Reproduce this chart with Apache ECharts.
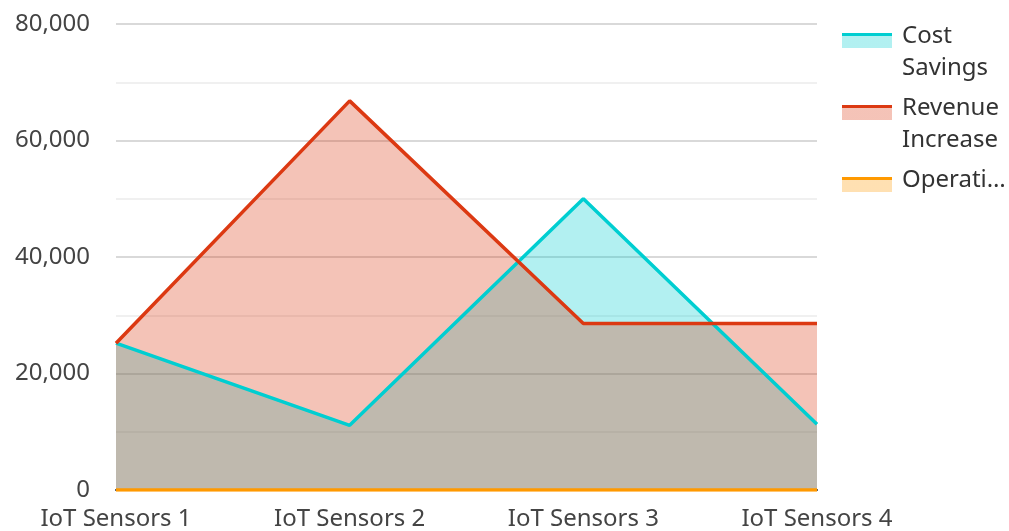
<!DOCTYPE html>
<html>
<head>
<meta charset="utf-8">
<script src="https://cdn.jsdelivr.net/npm/echarts@6/dist/echarts.min.js"></script>
<style>html,body{margin:0;padding:0;background:#fff}#c{width:1009px;height:531px}</style>
</head>
<body>
<div id="c"></div>
<script>
const categories = ['IoT Sensors 1', 'IoT Sensors 2', 'IoT Sensors 3', 'IoT Sensors 4'];
const seriesNames = ['Cost Savings', 'Revenue Increase', 'Operational Efficiency'];
const legendLabels = ['Cost\nSavings', 'Revenue\nIncrease', 'Operati…\n '];
const costSavings = [25200, 11100, 50000, 11300];
const revenueIncrease = [25200, 66800, 28600, 28600];
const operationalEfficiency = [0, 0, 0, 0];
const colors = ['#00CED1', '#DC3912', '#FF9900'];
const fills = ['rgba(0,206,209,0.3)', 'rgba(220,57,18,0.3)', 'rgba(255,153,0,0.3)'];
const T = 'rgba(255,255,255,0)';
const H = 64;
function legendIcon(i) {
  const a = 13 / H, b = 16.5 / H, c = 28 / H;
  return {
    type: 'linear', x: 0, y: 0, x2: 0, y2: 1,
    colorStops: [
      {offset: 0, color: T}, {offset: a, color: T},
      {offset: a, color: colors[i]}, {offset: b, color: colors[i]},
      {offset: b, color: fills[i]}, {offset: c, color: fills[i]},
      {offset: c, color: T}, {offset: 1, color: T}
    ]
  };
}
const data = [costSavings, revenueIncrease, operationalEfficiency];
const chart = echarts.init(document.getElementById('c'));
chart.setOption({
  animation: false,
  textStyle: {fontFamily: 'Noto Sans'},
  grid: {left: 116, right: 192, top: 24, bottom: 41, containLabel: false},
  legend: {
    orient: 'vertical', top: 20, left: 842, padding: 0,
    icon: 'rect', itemWidth: 50, itemHeight: H, itemGap: 8,
    data: seriesNames.map((n, i) => ({name: n, itemStyle: {color: legendIcon(i)}})),
    formatter: n => legendLabels[seriesNames.indexOf(n)],
    textStyle: {fontSize: 24, color: '#333', lineHeight: 32, fontFamily: 'Noto Sans', padding: [0, 0, 0, 5]}
  },
  xAxis: {
    type: 'category', data: categories, boundaryGap: false,
    axisLine: {show: true, lineStyle: {color: '#333', width: 2}},
    axisTick: {show: false},
    axisLabel: {fontSize: 24, color: '#444', margin: 17, fontFamily: 'Noto Sans'}
  },
  yAxis: {
    type: 'value', min: 0, max: 80000, interval: 20000,
    axisLine: {show: false}, axisTick: {show: false},
    axisLabel: {fontSize: 24, color: '#444', margin: 26, fontFamily: 'Noto Sans',
      formatter: v => v.toLocaleString('en-US')},
    splitLine: {lineStyle: {color: '#cccccc', width: 1.5}},
    minorTick: {show: false, splitNumber: 2},
    minorSplitLine: {show: true, lineStyle: {color: '#ebebeb', width: 1.5}}
  },
  series: data.map((d, i) => ({
    name: seriesNames[i], type: 'line', data: d,
    symbol: 'none', lineStyle: {color: colors[i], width: 3.5},
    itemStyle: {color: colors[i]},
    areaStyle: {color: fills[i], opacity: 1}
  }))
});
</script>
</body>
</html>
